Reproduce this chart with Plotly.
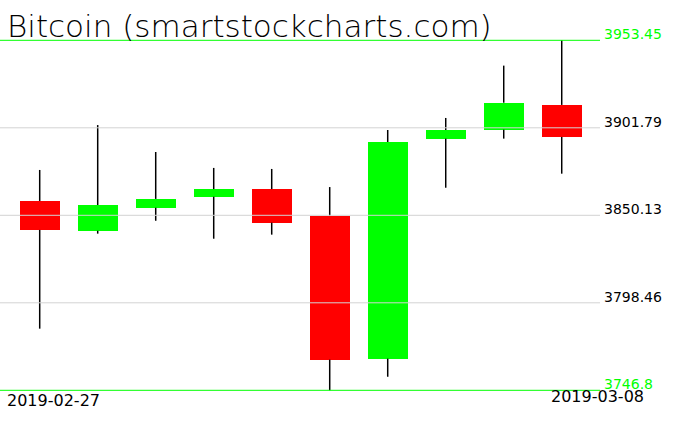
import plotly.graph_objects as go

dates = ["2019-02-27", "2019-02-28", "2019-03-01", "2019-03-02", "2019-03-03",
         "2019-03-04", "2019-03-05", "2019-03-06", "2019-03-07", "2019-03-08"]
opens = [3858.6, 3841.0, 3854.6, 3861.1, 3865.6, 3849.9, 3765.5, 3895.4, 3900.7, 3915.3]
highs = [3876.9, 3903.4, 3887.5, 3878.1, 3877.5, 3866.8, 3900.5, 3907.6, 3938.5, 3953.45]
lows = [3783.2, 3839.3, 3846.9, 3836.3, 3838.7, 3746.8, 3754.8, 3866.4, 3895.4, 3874.7]
closes = [3841.5, 3856.2, 3859.8, 3865.6, 3845.8, 3764.9, 3893.4, 3900.5, 3916.6, 3896.4]

tick_vals = [3953.45, 3901.79, 3850.13, 3798.46, 3746.8]
tick_text = ["3953.45", "3901.79", "3850.13", "3798.46", "3746.8"]
edge_ticks = [3953.45, 3746.8]

title_text = "Bitcoin (smartstockcharts.com)"

GREEN = "#00ff00"
RED = "#ff0000"
GRID = "#d3d3d3"
FONT = "DejaVu Sans"

fig = go.Figure()

# bodies
bases = [min(o, c) for o, c in zip(opens, closes)]
tops = [max(o, c) for o, c in zip(opens, closes)]
heights = [t - b for t, b in zip(tops, bases)]
colors = [GREEN if c >= o else RED for o, c in zip(opens, closes)]
fig.add_trace(go.Bar(x=dates, y=heights, base=bases, marker=dict(color=colors, line=dict(width=0)),
                     width=0.69, showlegend=False))

# wicks (outside the bodies)
wx, wy = [], []
for d, lo, hi, b, t in zip(dates, lows, highs, bases, tops):
    wx += [d, d, None, d, d, None]
    wy += [lo, b, None, t, hi, None]
fig.add_trace(go.Scatter(x=wx, y=wy, mode="lines",
                         line=dict(color="black", width=1.5),
                         hoverinfo="skip", showlegend=False))

# grid lines above traces
for v in tick_vals:
    col = GREEN if v in edge_ticks else GRID
    fig.add_shape(type="line", xref="paper", yref="y", x0=0, x1=1, y0=v, y1=v,
                  line=dict(color=col, width=1), layer="above")

# right labels
for v, t in zip(tick_vals, tick_text):
    col = GREEN if v in edge_ticks else "#000000"
    fig.add_annotation(xref="paper", yref="y", x=1.0, y=v, text=t, showarrow=False,
                       xanchor="left", yanchor="bottom", xshift=2, yshift=-4,
                       font=dict(family=FONT, size=14, color=col))

# date labels
fig.add_annotation(xref="paper", yref="paper", x=5 / 600, y=-0.0153, text=dates[0],
                   showarrow=False, xanchor="left", yanchor="middle",
                   font=dict(family=FONT, size=16, color="black"))
fig.add_annotation(xref="paper", yref="paper", x=646 / 600, y=-0.0028, text=dates[-1],
                   showarrow=False, xanchor="right", yanchor="middle",
                   font=dict(family=FONT, size=16, color="black"))

# title
fig.add_annotation(xref="paper", yref="paper", x=5 / 600, y=1.0, text=title_text,
                   showarrow=False, xanchor="left", yanchor="bottom", yshift=-11,
                   font=dict(family=FONT, size=31, color="black", weight=200))

fig.update_layout(
    width=676, height=431,
    margin=dict(l=0, r=76, t=35, b=36),
    paper_bgcolor="white", plot_bgcolor="white",
    bargap=0,
    xaxis=dict(type="category", range=[-0.6845, 9.66], showgrid=False, showticklabels=False,
               zeroline=False, showline=False, ticks=""),
    yaxis=dict(range=[3744.03, 3956.58], showgrid=False, showticklabels=False,
               zeroline=False, showline=False, ticks=""),
)

fig.write_html("out.html", post_script="document.body.style.margin='0';",
               config={"displayModeBar": False})
